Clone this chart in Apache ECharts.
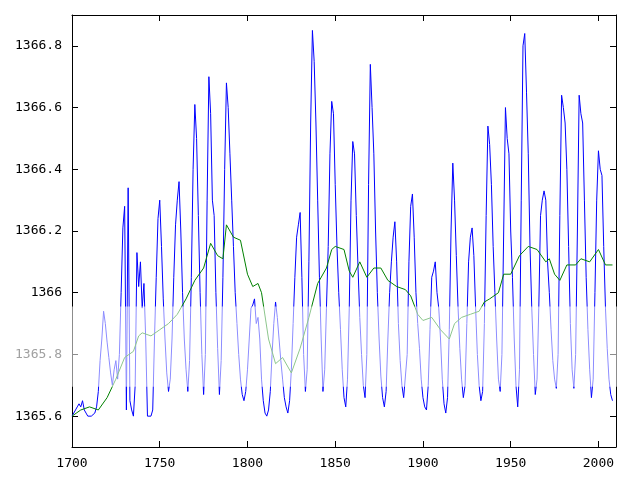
<!DOCTYPE html>
<html><head><meta charset="utf-8">
<script src="https://cdn.jsdelivr.net/npm/echarts@6/dist/echarts.min.js"></script>
<style>html,body{margin:0;padding:0;background:#fff}#c{width:640px;height:480px}</style>
</head><body><div id="c"></div>
<script>
const startYear = 1700;
const tsi = [
1365.60,1365.61,1365.62,1365.63,1365.64,1365.63,1365.65,1365.62,1365.61,1365.60,
1365.60,1365.60,1365.60,1365.61,1365.63,1365.68,1365.78,1365.85,1365.94,1365.90,
1365.84,1365.79,1365.74,1365.70,1365.75,1365.78,1365.72,1365.80,1366.00,1366.21,
1366.28,1365.62,1366.34,1365.65,1365.62,1365.60,1365.70,1366.13,1366.02,1366.10,
1365.95,1366.03,1365.85,1365.60,1365.60,1365.60,1365.62,1365.85,1366.05,1366.24,
1366.30,1366.15,1365.98,1365.85,1365.74,1365.68,1365.72,1365.85,1366.05,1366.22,
1366.30,1366.36,1366.20,1366.00,1365.85,1365.75,1365.68,1365.78,1366.05,1366.40,
1366.61,1366.50,1366.25,1366.00,1365.80,1365.67,1365.80,1366.30,1366.70,1366.58,
1366.30,1366.25,1366.00,1365.82,1365.67,1365.78,1366.05,1366.40,1366.68,1366.60,
1366.45,1366.30,1366.15,1366.00,1365.90,1365.80,1365.72,1365.67,1365.65,1365.68,
1365.75,1365.85,1365.95,1365.96,1365.98,1365.90,1365.92,1365.85,1365.72,1365.65,
1365.61,1365.60,1365.62,1365.68,1365.80,1365.90,1365.97,1365.92,1365.85,1365.78,
1365.72,1365.66,1365.63,1365.61,1365.65,1365.75,1365.90,1366.05,1366.18,1366.22,
1366.26,1366.05,1365.80,1365.68,1365.75,1366.10,1366.55,1366.85,1366.75,1366.55,
1366.30,1366.05,1365.85,1365.68,1365.75,1365.95,1366.15,1366.45,1366.62,1366.58,
1366.35,1366.15,1366.00,1365.88,1365.75,1365.66,1365.63,1365.72,1365.95,1366.30,
1366.49,1366.45,1366.25,1366.08,1365.92,1365.80,1365.70,1365.66,1365.80,1366.35,
1366.74,1366.60,1366.45,1366.20,1366.00,1365.85,1365.73,1365.66,1365.63,1365.68,
1365.85,1366.00,1366.10,1366.18,1366.23,1366.10,1365.90,1365.78,1365.70,1365.66,
1365.66,1365.80,1366.10,1366.28,1366.32,1366.18,1366.00,1365.90,1365.82,1365.72,
1365.66,1365.63,1365.62,1365.70,1365.88,1366.05,1366.07,1366.10,1366.00,1365.95,
1365.85,1365.72,1365.64,1365.61,1365.66,1365.88,1366.20,1366.42,1366.30,1366.12,
1365.95,1365.82,1365.72,1365.66,1365.70,1365.90,1366.10,1366.18,1366.21,1366.12,
1365.95,1365.80,1365.70,1365.65,1365.68,1365.90,1366.25,1366.54,1366.48,1366.35,
1366.15,1366.00,1365.85,1365.72,1365.68,1365.80,1366.20,1366.60,1366.50,1366.45,
1366.20,1366.05,1365.85,1365.70,1365.63,1365.75,1366.30,1366.80,1366.84,1366.65,
1366.45,1366.15,1365.95,1365.80,1365.67,1365.72,1365.95,1366.25,1366.30,1366.33,
1366.30,1366.10,1366.00,1365.88,1365.78,1365.72,1365.69,1365.80,1366.25,1366.64,
1366.60,1366.55,1366.40,1366.15,1365.90,1365.75,1365.69,1365.80,1366.20,1366.64,
1366.58,1366.55,1366.30,1366.05,1365.88,1365.75,1365.66,1365.72,1366.00,1366.30,
1366.46,1366.40,1366.38,1366.15,1365.95,1365.82,1365.72,1365.67,1365.65
];
const smoothYears = [1700,1705,1710,1715,1720,1725,1730,1735,1738,1740,1745,1750,1755,1760,1765,1770,1775,1779,1783,1786,1788,1792,1796,1800,1803,1806,1808,1812,1816,1820,1825,1830,1835,1840,1845,1848,1850,1855,1858,1860,1864,1868,1872,1876,1880,1885,1890,1893,1897,1900,1905,1910,1915,1918,1922,1927,1932,1935,1938,1943,1946,1950,1955,1960,1965,1970,1972,1975,1978,1982,1987,1990,1995,2000,2004,2008];
const smoothVals = [1365.60,1365.62,1365.63,1365.62,1365.66,1365.72,1365.79,1365.81,1365.86,1365.87,1365.86,1365.88,1365.90,1365.93,1365.98,1366.04,1366.08,1366.16,1366.12,1366.11,1366.22,1366.18,1366.17,1366.06,1366.02,1366.03,1366.00,1365.85,1365.77,1365.79,1365.74,1365.82,1365.92,1366.03,1366.08,1366.14,1366.15,1366.14,1366.07,1366.05,1366.10,1366.05,1366.08,1366.08,1366.04,1366.02,1366.01,1365.99,1365.93,1365.91,1365.92,1365.88,1365.85,1365.90,1365.92,1365.93,1365.94,1365.97,1365.98,1366.00,1366.06,1366.06,1366.12,1366.15,1366.14,1366.10,1366.11,1366.06,1366.04,1366.09,1366.09,1366.11,1366.10,1366.14,1366.09,1366.09];
const yTicks = [1365.6,1365.8,1366,1366.2,1366.4,1366.6,1366.8];
const fadeBand = [1365.695, 1365.955];

const font = {fontFamily:'DejaVu Sans Mono', fontSize:13, color:'#000'};
const chart = echarts.init(document.getElementById('c'));
const xBase = {type:'value', min:1700, max:2010, interval:50,
  axisLine:{lineStyle:{color:'#000'}}, axisTick:{inside:true,length:6,lineStyle:{color:'#000'}}, splitLine:{show:false}};
const yBase = {type:'value', min:1365.5, max:1366.9,
  axisLine:{show:true,lineStyle:{color:'#000'}},
  axisTick:{inside:true,length:6,customValues:yTicks,lineStyle:{color:'#000'}}, splitLine:{show:false}};
chart.setOption({
  animation:false,
  grid:{left:72,right:24,top:15,bottom:33,show:false},
  xAxis:[
    Object.assign({}, xBase, {position:'bottom', axisLabel:Object.assign({margin:10,showMaxLabel:false,formatter:v=>String(v)}, font)}),
    Object.assign({}, xBase, {position:'top', axisLabel:{show:false}})
  ],
  yAxis:[
    Object.assign({}, yBase, {position:'left', axisLabel:Object.assign({margin:10, customValues:yTicks,
      formatter:v=>Math.abs(v-1365.8)<1e-6?'{g|'+v+'}':String(v),
      rich:{g:{color:'#a0a0a0',fontFamily:'DejaVu Sans Mono',fontSize:13}}}, font)}),
    Object.assign({}, yBase, {position:'right', axisLabel:{show:false}})
  ],
  series:[
    {type:'line', data:tsi.map((v,i)=>[startYear+i,v]), showSymbol:false, lineStyle:{color:'#0000ff',width:1}, z:3},
    {type:'line', data:smoothYears.map((y,i)=>[y,smoothVals[i]]), showSymbol:false, lineStyle:{color:'#008000',width:1}, z:4}
  ]
});
const p1 = chart.convertToPixel({xAxisIndex:0,yAxisIndex:0},[1700,fadeBand[1]]);
const p2 = chart.convertToPixel({xAxisIndex:0,yAxisIndex:0},[2010,fadeBand[0]]);
chart.setOption({graphic:[{type:'rect', z:100, silent:true,
  shape:{x:p1[0]-1,y:p1[1],width:p2[0]-p1[0]+2,height:p2[1]-p1[1]},
  style:{fill:'rgba(255,255,255,0.55)'}}]});
</script></body></html>
